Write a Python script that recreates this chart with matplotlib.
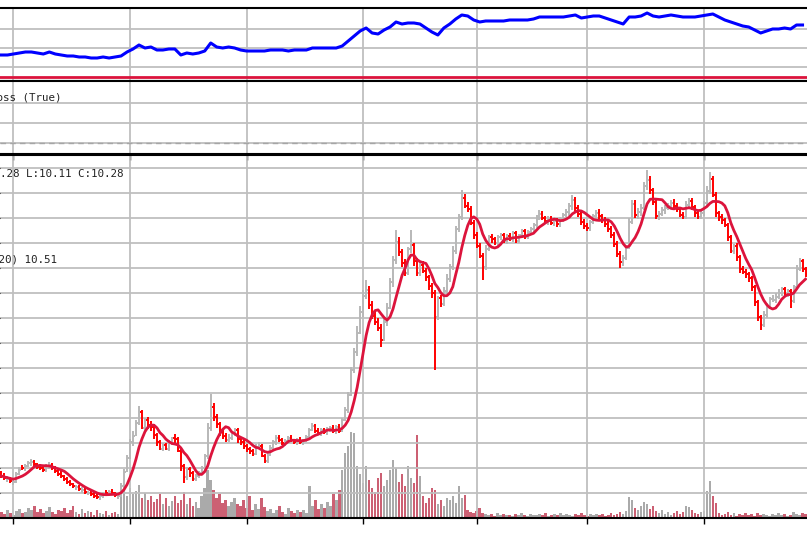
import numpy as np
import pandas as pd
import matplotlib
matplotlib.use("Agg")
import matplotlib.pyplot as plt

# ---------------- data ----------------
# each drawn bar stands for about three trading sessions of the original
sessions_per_bar = 3

opens = [5.90,5.86,5.76,5.80,5.70,5.74,5.90,6.02,5.98,6.06,
 6.08,6.14,6.06,6.04,6.02,5.94,6.02,6.08,6.00,5.96,
 5.90,5.82,5.80,5.70,5.66,5.60,5.64,5.54,5.58,5.48,
 5.52,5.50,5.46,5.40,5.42,5.52,5.48,5.54,5.50,5.42,
 5.46,5.66,5.98,6.24,6.50,6.70,6.90,7.12,6.80,6.96,
 6.86,6.82,6.66,6.52,6.38,6.46,6.38,6.52,6.60,6.58,
 6.34,6.04,5.82,5.98,5.90,5.78,5.84,5.90,6.00,6.24,
 6.80,7.22,7.02,6.88,6.72,6.64,6.56,6.60,6.70,6.76,
 6.58,6.52,6.44,6.38,6.34,6.28,6.42,6.44,6.24,6.14,
 6.28,6.42,6.50,6.62,6.58,6.48,6.56,6.62,6.54,6.50,
 6.58,6.50,6.56,6.64,6.78,6.86,6.76,6.68,6.78,6.70,
 6.76,6.82,6.72,6.84,6.76,6.98,7.14,7.50,7.98,8.30,
 8.74,9.10,9.48,9.60,9.28,9.06,8.96,8.82,8.60,8.90,
 9.24,9.70,10.14,10.56,10.30,10.12,9.90,10.38,10.46,10.14,
 9.90,10.06,9.94,9.82,9.64,9.50,9.02,9.40,9.28,9.54,
 9.78,10.02,10.34,10.78,11.02,11.40,11.24,11.18,10.90,10.66,
 10.44,10.24,10.02,10.38,10.62,10.58,10.50,10.62,10.66,10.54,
 10.64,10.58,10.70,10.54,10.66,10.74,10.62,10.72,10.78,10.86,
 11.02,11.10,10.98,10.92,11.00,10.88,10.96,10.86,10.96,11.08,
 11.10,11.22,11.38,11.22,11.10,10.94,10.86,10.78,10.94,11.02,
 11.12,11.02,10.98,10.90,10.80,10.68,10.50,10.30,10.10,10.22,
 10.44,10.94,11.30,11.04,11.10,11.22,11.62,11.78,11.54,11.30,
 11.02,11.10,11.14,11.22,11.26,11.32,11.24,11.18,11.06,11.02,
 11.26,11.34,11.22,11.10,11.02,11.10,11.30,11.54,11.78,11.46,
 11.10,11.02,10.96,10.86,10.62,10.34,10.44,10.22,9.98,9.92,
 9.88,9.80,9.62,9.32,9.02,8.86,9.06,9.22,9.38,9.36,
 9.42,9.50,9.58,9.46,9.54,9.34,9.62,9.98,10.14,9.98]

highs = [5.94,5.90,5.84,5.82,5.78,5.92,6.02,6.06,6.08,6.14,
 6.18,6.16,6.10,6.08,6.04,6.08,6.12,6.10,6.04,5.98,
 5.94,5.86,5.82,5.76,5.70,5.66,5.66,5.62,5.60,5.54,
 5.56,5.52,5.48,5.48,5.52,5.56,5.56,5.58,5.52,5.48,
 5.70,5.98,6.26,6.58,6.74,6.96,7.24,7.16,7.00,7.02,
 6.94,6.88,6.70,6.56,6.50,6.50,6.56,6.62,6.68,6.62,
 6.38,6.08,6.02,6.02,5.94,5.88,5.94,6.04,6.28,6.90,
 7.48,7.30,7.08,6.92,6.76,6.70,6.68,6.72,6.80,6.80,
 6.62,6.56,6.48,6.42,6.38,6.48,6.52,6.48,6.28,6.32,
 6.46,6.56,6.66,6.66,6.60,6.58,6.64,6.66,6.58,6.60,
 6.62,6.58,6.66,6.80,6.90,6.88,6.80,6.80,6.80,6.82,
 6.84,6.86,6.86,6.88,7.00,7.22,7.52,8.02,8.40,8.84,
 9.24,9.56,9.76,9.64,9.34,9.14,9.00,8.88,8.98,9.30,
 9.80,10.24,10.76,10.62,10.38,10.18,10.42,10.76,10.50,10.20,
 10.12,10.14,10.00,9.86,9.70,9.56,9.44,9.46,9.62,9.88,
 10.08,10.44,10.84,11.08,11.56,11.48,11.32,11.24,10.96,10.72,
 10.50,10.30,10.46,10.66,10.68,10.62,10.66,10.70,10.70,10.68,
 10.70,10.74,10.74,10.68,10.78,10.78,10.76,10.82,10.90,11.06,
 11.16,11.14,11.04,11.04,11.04,10.98,11.00,11.02,11.10,11.18,
 11.30,11.46,11.42,11.26,11.14,10.98,10.90,10.96,11.08,11.16,
 11.18,11.08,11.02,10.94,10.84,10.72,10.54,10.34,10.26,10.46,
 11.00,11.36,11.36,11.20,11.28,11.72,11.96,11.84,11.60,11.36,
 11.14,11.22,11.26,11.30,11.36,11.38,11.30,11.22,11.12,11.34,
 11.40,11.40,11.26,11.14,11.18,11.34,11.64,11.92,11.84,11.52,
 11.14,11.08,11.00,10.90,10.66,10.48,10.50,10.26,10.04,9.98,
 9.92,9.84,9.66,9.36,9.06,9.14,9.30,9.42,9.46,9.50,
 9.58,9.62,9.62,9.58,9.58,9.66,10.06,10.20,10.18,10.02]

lows = [5.80,5.76,5.72,5.70,5.66,5.70,5.86,5.96,5.94,6.02,
 6.04,6.04,5.98,5.96,5.92,5.92,5.98,5.96,5.90,5.84,
 5.80,5.74,5.68,5.64,5.60,5.56,5.54,5.50,5.48,5.46,
 5.44,5.40,5.38,5.36,5.40,5.46,5.44,5.46,5.42,5.38,
 5.42,5.60,5.92,6.18,6.44,6.64,6.86,6.78,6.74,6.78,
 6.74,6.58,6.44,6.36,6.34,6.36,6.34,6.46,6.50,6.32,
 5.94,5.70,5.76,5.82,5.74,5.74,5.80,5.86,5.96,6.18,
 6.74,6.94,6.80,6.64,6.58,6.52,6.52,6.56,6.64,6.50,
 6.46,6.38,6.32,6.28,6.24,6.26,6.38,6.22,6.10,6.10,
 6.24,6.38,6.46,6.52,6.46,6.44,6.52,6.52,6.48,6.46,
 6.48,6.46,6.52,6.60,6.74,6.70,6.66,6.64,6.68,6.66,
 6.72,6.70,6.68,6.70,6.72,6.94,7.10,7.44,7.90,8.24,
 8.68,9.02,9.38,9.18,8.98,8.86,8.74,8.42,8.54,8.84,
 9.18,9.62,10.08,10.24,10.02,9.84,9.86,10.30,10.04,9.84,
 9.84,9.90,9.74,9.56,9.40,7.96,8.96,9.22,9.24,9.48,
 9.72,9.96,10.28,10.72,10.96,11.20,11.12,10.86,10.58,10.40,
 10.20,9.76,9.96,10.34,10.50,10.46,10.44,10.56,10.50,10.48,
 10.54,10.52,10.50,10.50,10.60,10.58,10.58,10.66,10.72,10.80,
 10.96,10.96,10.88,10.86,10.86,10.84,10.82,10.82,10.92,11.02,
 11.04,11.16,11.14,11.02,10.86,10.78,10.74,10.74,10.88,10.98,
 10.98,10.90,10.82,10.72,10.60,10.42,10.22,10.00,10.04,10.16,
 10.38,10.88,11.00,10.98,11.04,11.16,11.56,11.48,11.26,10.98,
 10.96,11.04,11.08,11.16,11.20,11.20,11.12,11.02,10.98,10.98,
 11.20,11.16,11.02,10.98,10.98,11.04,11.24,11.48,11.42,11.02,
 10.94,10.88,10.82,10.54,10.30,10.28,10.14,9.90,9.88,9.80,
 9.72,9.54,9.24,8.94,8.76,8.82,9.00,9.18,9.32,9.30,
 9.38,9.44,9.42,9.42,9.20,9.30,9.58,9.94,9.92,9.82]

closes = [5.84,5.80,5.78,5.74,5.72,5.88,5.96,6.00,6.04,6.10,
 6.12,6.08,6.02,6.00,5.96,6.04,6.06,6.00,5.94,5.88,
 5.84,5.78,5.72,5.68,5.64,5.62,5.58,5.56,5.52,5.50,
 5.48,5.44,5.42,5.44,5.48,5.50,5.52,5.50,5.46,5.44,
 5.64,5.92,6.20,6.52,6.64,6.88,7.08,6.84,6.92,6.84,
 6.80,6.64,6.50,6.42,6.44,6.40,6.50,6.54,6.56,6.38,
 6.00,5.80,5.96,5.86,5.80,5.82,5.88,5.98,6.20,6.76,
 7.26,7.00,6.86,6.70,6.62,6.58,6.62,6.68,6.74,6.56,
 6.50,6.42,6.36,6.32,6.30,6.44,6.46,6.26,6.16,6.26,
 6.40,6.52,6.60,6.56,6.50,6.54,6.60,6.56,6.52,6.56,
 6.52,6.54,6.62,6.76,6.84,6.74,6.70,6.76,6.72,6.78,
 6.80,6.74,6.82,6.74,6.96,7.16,7.46,7.96,8.32,8.70,
 9.12,9.44,9.56,9.26,9.04,8.92,8.80,8.56,8.92,9.20,
 9.72,10.16,10.52,10.32,10.10,9.92,10.36,10.44,10.12,9.92,
 10.04,9.96,9.80,9.62,9.48,9.00,9.36,9.30,9.56,9.80,
 10.00,10.36,10.76,11.00,11.36,11.28,11.20,10.92,10.64,10.46,
 10.26,10.00,10.40,10.60,10.56,10.52,10.60,10.64,10.56,10.62,
 10.60,10.68,10.56,10.64,10.72,10.64,10.70,10.76,10.84,11.00,
 11.08,11.00,10.94,10.98,10.90,10.94,10.88,10.98,11.06,11.12,
 11.24,11.36,11.20,11.08,10.92,10.84,10.80,10.92,11.04,11.10,
 11.04,10.96,10.88,10.78,10.66,10.48,10.28,10.12,10.20,10.40,
 10.92,11.28,11.06,11.12,11.20,11.64,11.76,11.56,11.32,11.04,
 11.08,11.16,11.20,11.24,11.30,11.26,11.16,11.08,11.04,11.28,
 11.32,11.20,11.08,11.04,11.12,11.28,11.56,11.76,11.48,11.08,
 11.00,10.94,10.88,10.60,10.36,10.42,10.20,9.96,9.94,9.86,
 9.78,9.60,9.30,9.00,8.88,9.08,9.24,9.36,9.40,9.44,
 9.52,9.56,9.48,9.52,9.36,9.60,10.00,10.12,9.96,9.88]

# volume in units of 10k shares
volumes = [6,4,8,5,3,7,9,5,6,10, 8,12,6,9,5,7,11,6,4,8,
 7,10,5,8,12,6,4,9,5,7, 6,3,8,5,4,7,3,5,6,4,
 26,28,22,30,24,27,33,20,25,18, 22,16,19,24,14,20,12,17,22,15,
 18,26,14,20,12,16,10,22,30,48, 38,28,20,24,15,18,12,16,20,14,
 12,18,10,22,8,14,9,20,11,7, 9,5,8,12,6,4,10,7,5,8,
 6,8,5,32,12,18,9,14,10,16, 12,24,18,28,48,65,72,86,85,52,
 44,35,52,38,30,26,40,45,32,38, 48,58,50,36,44,32,52,40,35,83,
 42,22,15,20,30,28,14,18,12,20, 18,22,15,32,20,23,8,6,5,7,
 10,5,4,3,4,2,5,3,4,3, 3,2,4,3,5,3,2,4,3,3,
 4,3,5,2,3,4,3,5,3,4, 3,2,4,3,5,3,2,4,3,4,
 3,4,2,3,5,3,4,6,4,7, 21,18,10,8,12,16,14,9,12,7,
 5,8,4,6,3,5,7,4,6,12, 11,8,5,4,6,7,27,37,22,15,
 5,3,4,6,3,5,2,4,3,5, 3,4,2,5,3,4,3,2,4,3,
 5,3,4,2,3,6,4,3,5,4]

# broker value, one reading every second bar
broker_value = [52630,52630,53680,54740,55790,55790,54740,53680,55790,53680,
 52630,51580,51580,50530,50530,49470,49470,50530,49470,50530,
 51580,55790,58950,63160,60000,61050,57890,57890,58950,58950,
 52630,54740,53680,54740,56840,65260,61050,60000,61050,60000,
 57890,56840,56840,56840,56840,57890,57890,57890,56840,57890,
 57890,57890,60000,60000,60000,60000,60000,62110,67370,72630,
 77890,81050,75790,74740,78950,82110,87370,85260,86320,86320,
 85260,81050,76840,73680,81050,85260,90530,94740,93680,89470,
 87370,88420,88420,88420,88420,89470,89470,89470,89470,90530,
 92630,92630,92630,92630,92630,93680,94740,91580,92630,93680,
 93680,91580,89470,87370,85260,92630,92630,93680,96840,93680,
 92630,93680,94740,93680,92630,92630,92630,93680,94740,95790,
 92630,89470,87370,85260,83160,82110,78950,75790,77890,80000,
 80000,81050,80000,84210,84210]
broker_cash = 28950

grid_bars = [4, 43, 82, 121, 159, 196, 235]
data_legend = "H:10.28 L:10.11 C:10.28"
sma_period = 20
sma_legend = "SimpleMovingAverage (20) 10.51"
trades_legend = "Trades - Net Profit/Loss (True)"

# ---------------- figure ----------------
W, H = 807, 538
fig = plt.figure(figsize=(W / 100, H / 100), dpi=100)
fig.patch.set_facecolor("white")

def rect(top, bottom):
    return [0, 1 - bottom / H, 1, (bottom - top) / H]

ax_top = fig.add_axes(rect(8, 81))
ax_mid = fig.add_axes(rect(81, 154))
ax = fig.add_axes(rect(155, 518))

o = np.array(opens); h = np.array(highs); l = np.array(lows); c = np.array(closes)
v = np.array(volumes)
n = len(c)
x = np.arange(n)
xlim = (-0.5, n - 0.5)

grid_kw = dict(color="#bfbfbf", linewidth=1.3)

def style(a):
    a.set_xlim(*xlim)
    a.set_xticks(grid_bars)
    a.tick_params(axis="x", direction="out", length=4, width=1,
                  labelbottom=False, color="black")
    a.tick_params(axis="y", left=False, right=False, labelleft=False,
                  labelright=False)
    a.grid(True, **grid_kw)
    a.spines["left"].set_visible(False)
    a.spines["right"].set_visible(False)
    for s in ("top", "bottom"):
        a.spines[s].set_color("black")
        a.spines[s].set_linewidth(1.5)

# top panel: broker value / cash
style(ax_top)
vx = np.arange(0, n, 2)[:len(broker_value)]
ax_top.plot(vx, broker_value, color="blue", lw=2.2, zorder=3)
ax_top.axhline(broker_cash, color="crimson", lw=2.0, zorder=3)
ax_top.set_ylim(25260, 102100)
ax_top.set_yticks([40000, 60000, 80000])

# middle panel: trades (empty)
style(ax_mid)
ax_mid.set_ylim(-0.55, 3.1)
ax_mid.set_yticks([0, 1, 2])
ax_mid.axhline(0, color="0.65", lw=1.0, ls=(0, (4, 3)), zorder=3)

# main panel: OHLC bars + SMA + volume overlay
style(ax)
vol_ax = ax.twinx()
vol_ax.set_xlim(*xlim)
up = c >= o
vol_colors = np.where(up, "#aaaaaa", "#cc6073")
vol_ax.bar(x, v, width=0.85, color=vol_colors, linewidth=0)
vol_ax.set_ylim(0, v.max() * 4.22)
vol_ax.axis("off")
ax.set_zorder(vol_ax.get_zorder() + 1)
ax.patch.set_visible(False)

for mask, col in ((up, "0.72"), (~up, "red")):
    ax.vlines(x[mask], l[mask], h[mask], color=col, lw=1.4)
    ax.hlines(o[mask], x[mask] - 0.5, x[mask], color=col, lw=1.4)
    ax.hlines(c[mask], x[mask], x[mask] + 0.5, color=col, lw=1.4)

# SMA of 20 sessions = about 20/3 of the drawn (3-session) bars
window = int(round(sma_period / sessions_per_bar))
sma = pd.Series(c).rolling(window, min_periods=1).mean()
ax.plot(x, sma, color="crimson", lw=2.0, zorder=4)
ax.set_ylim(5.0, 12.26)
ax.set_yticks(np.arange(5.5, 12.01, 0.5))

# legends / labels (cropped at left edge like the reference)
tkw = dict(family="DejaVu Sans Mono", fontsize=7.8, color="#222222",
           ha="right", va="baseline")
fig.text(124 / W, 1 - 177 / H, data_legend, **tkw)
fig.text(57 / W, 1 - 263 / H, sma_legend, **tkw)
fig.text(62 / W, 1 - 101 / H, trades_legend, **tkw)

fig.savefig("out.png", dpi=100)
